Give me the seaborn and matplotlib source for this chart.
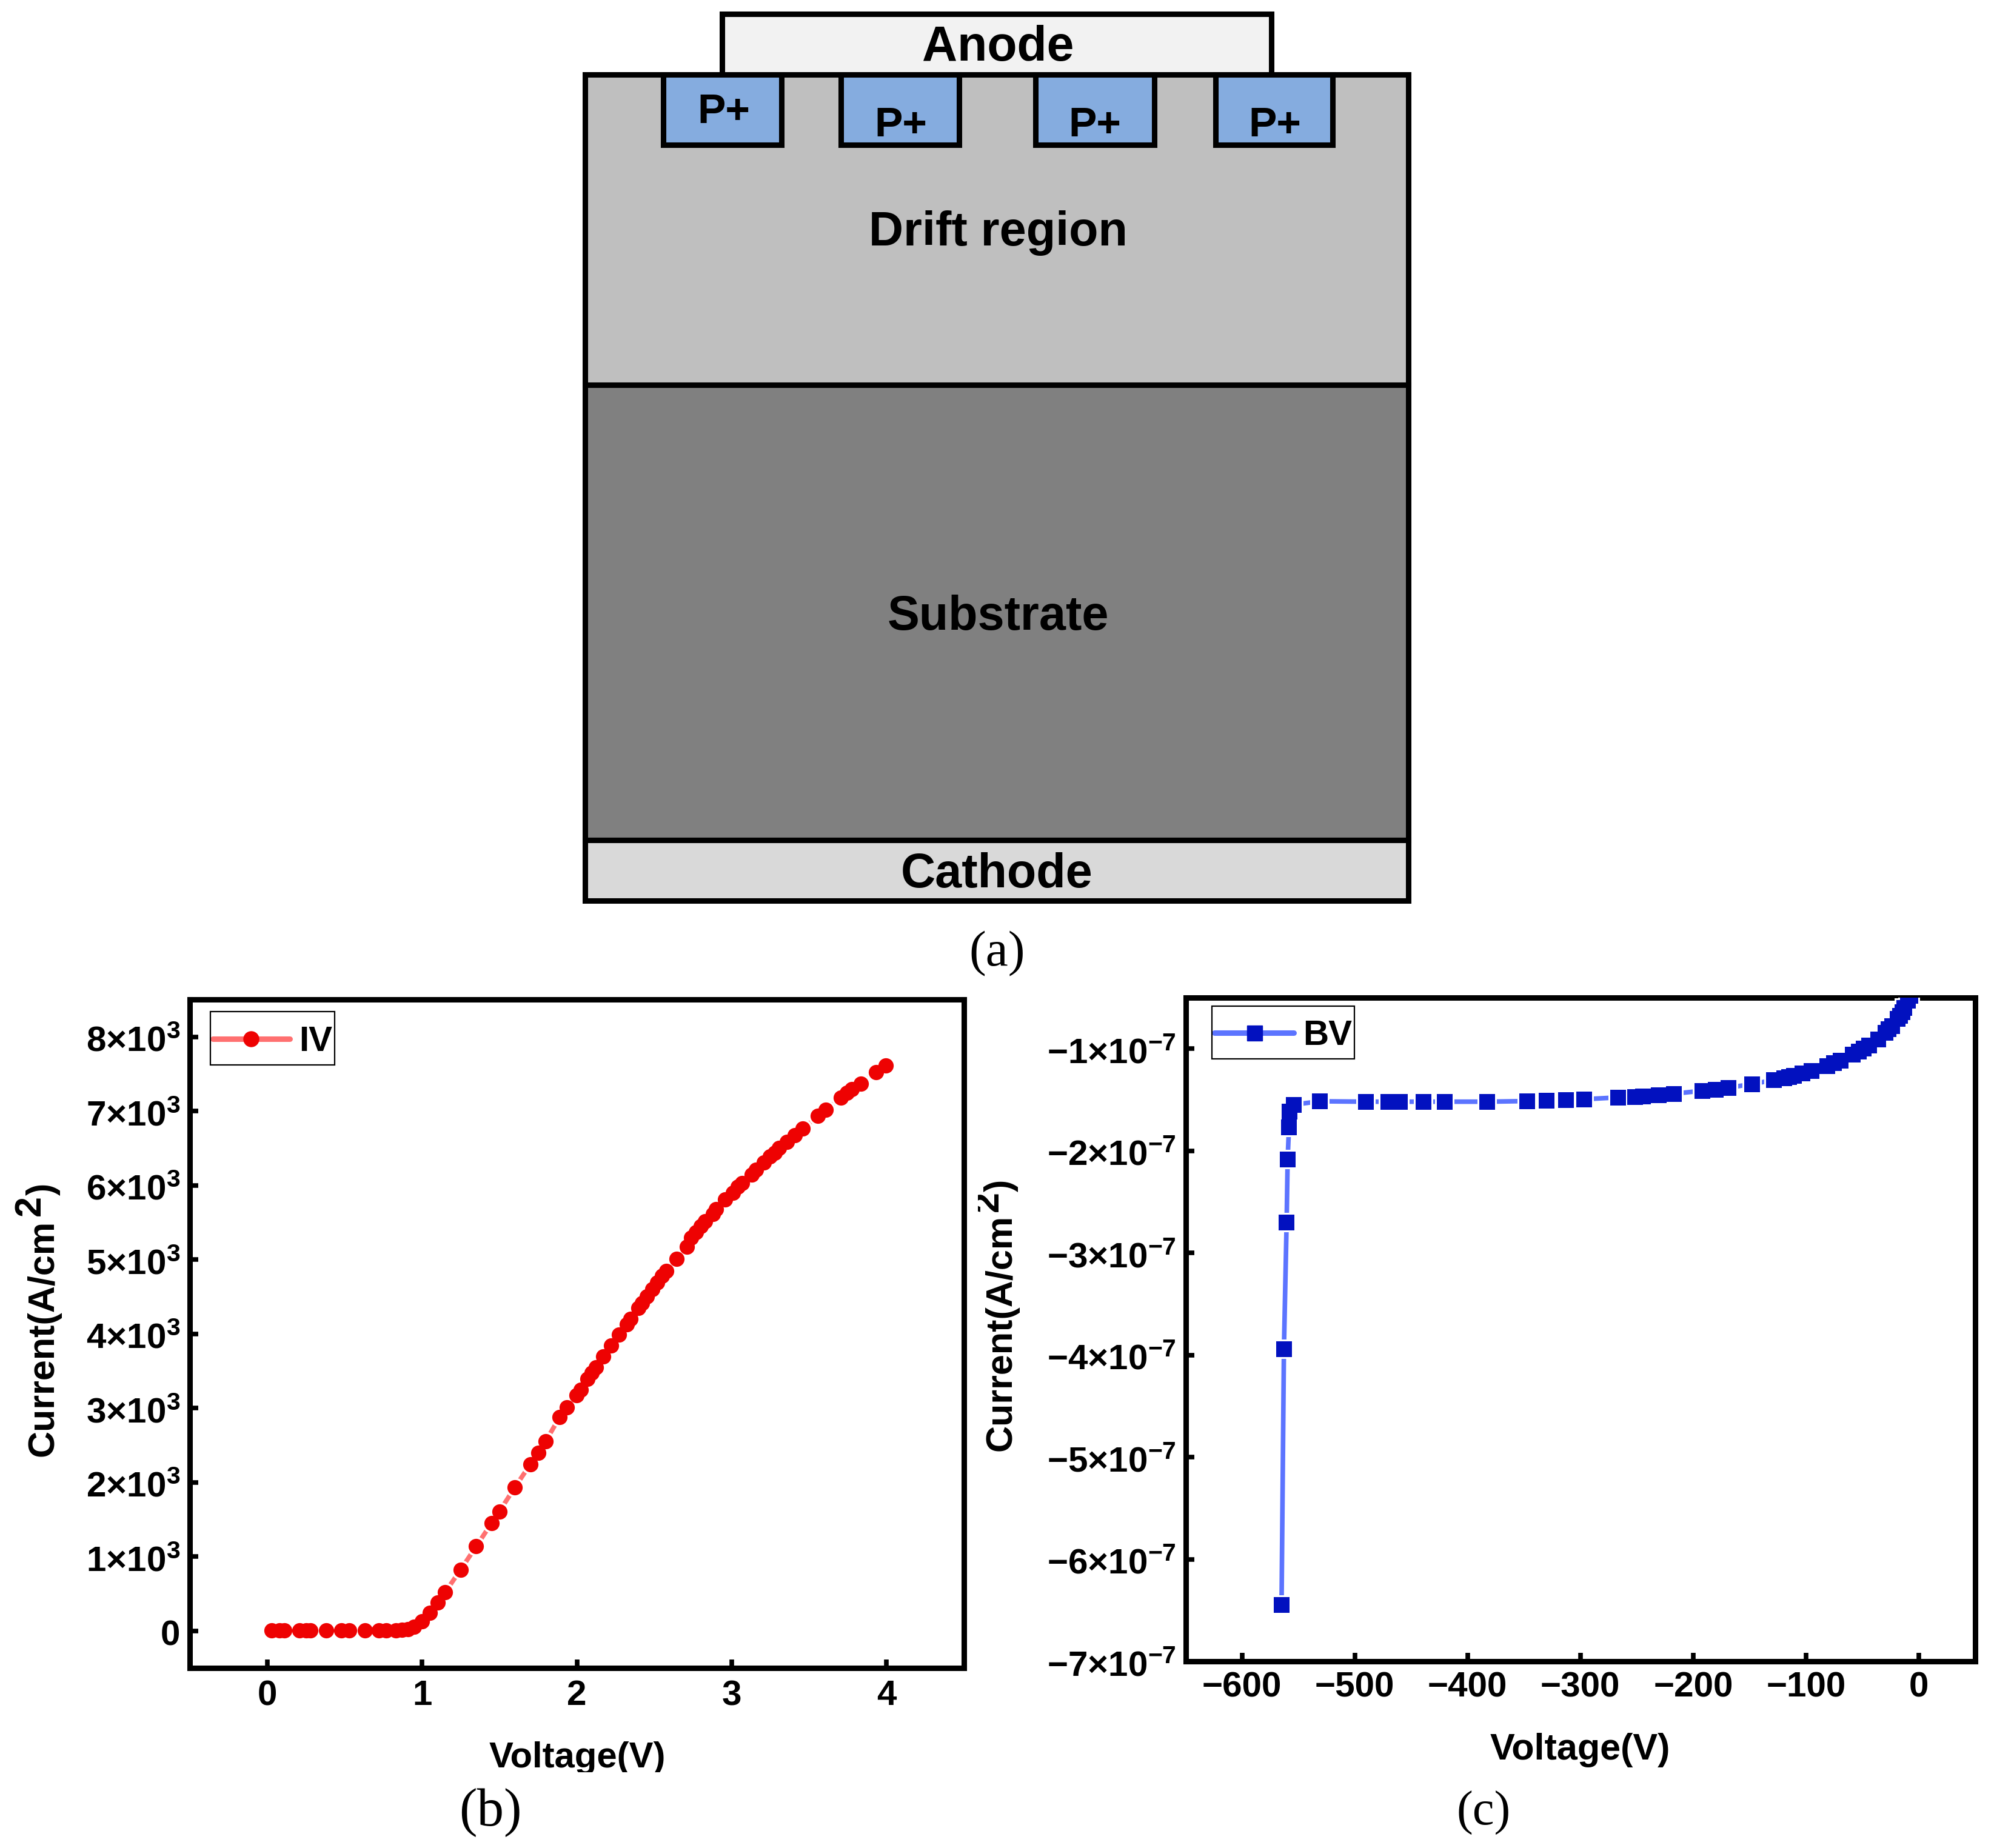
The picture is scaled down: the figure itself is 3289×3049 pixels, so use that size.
import matplotlib
matplotlib.use("Agg")
import matplotlib.pyplot as plt
import seaborn as sns
from matplotlib.font_manager import FontProperties
from matplotlib.lines import Line2D
from matplotlib.patches import Rectangle
from matplotlib.transforms import ScaledTranslation

W, H = 3289, 3049
SANS = "Liberation Sans"
SERIF = "Liberation Serif"

# ======================
# Data
# ======================
iv_voltage = [0.03, 0.08, 0.11, 0.21, 0.25, 0.28, 0.38, 0.48, 0.53, 0.63, 0.72, 0.77, 0.83, 0.87,
              0.91, 0.95, 1.00, 1.05, 1.10, 1.15, 1.25, 1.35, 1.45, 1.50, 1.60, 1.70, 1.75, 1.80,
              1.888, 1.934, 1.999, 2.025, 2.070, 2.096, 2.122, 2.172, 2.223, 2.273, 2.324, 2.348,
              2.398, 2.422, 2.454, 2.487, 2.520, 2.552, 2.578, 2.646, 2.711, 2.740, 2.770, 2.800,
              2.830, 2.879, 2.898, 2.957, 3.008, 3.040, 3.068, 3.129, 3.158, 3.207, 3.246, 3.277,
              3.307, 3.358, 3.407, 3.459, 3.557, 3.606, 3.706, 3.746, 3.776, 3.834, 3.934, 3.995]
iv_current = [3, 3, 3, 3, 3, 3, 3, 3, 3, 3, 5, 7, 10, 15,
              23, 58, 129, 246, 382, 522, 826, 1138, 1454, 1610, 1934, 2246, 2398, 2557,
              2877, 3012, 3170, 3245, 3393, 3475, 3548, 3692, 3839, 3986, 4127, 4201,
              4345, 4413, 4500, 4598, 4690, 4780, 4848, 5011, 5174, 5296, 5367, 5450,
              5514, 5612, 5677, 5810, 5900, 5979, 6030, 6142, 6207, 6305, 6387, 6438,
              6500, 6588, 6675, 6764, 6933, 7015, 7178, 7243, 7295, 7373, 7528, 7615]

bv_voltage = [-564.9, -562.8, -560.4, -559.5, -558.3, -558.0, -554.0, -530.9, -490.3, -470.0,
              -459.8, -439.2, -420.5, -382.7, -346.9, -330.2, -312.9, -296.8, -266.4, -251.5,
              -244.5, -230.5, -217.2, -192.0, -180.1, -168.9, -147.6, -128.5, -119.3, -115.1,
              -110.8, -103.0, -95.3, -81.4, -75.0, -69.2, -58.3, -53.1, -48.9, -44.0, -35.8,
              -29.4, -26.7, -23.7, -18.8, -16.7, -14.5, -12.7, -9.7, -7.6]
bv_current = [-6.445e-7, -3.945e-7, -2.70e-7, -2.083e-7, -1.768e-7, -1.618e-7, -1.548e-7, -1.515e-7,
              -1.519e-7, -1.519e-7, -1.519e-7, -1.519e-7, -1.519e-7, -1.519e-7, -1.513e-7,
              -1.507e-7, -1.501e-7, -1.495e-7, -1.477e-7, -1.471e-7, -1.465e-7, -1.453e-7,
              -1.441e-7, -1.412e-7, -1.400e-7, -1.382e-7, -1.346e-7, -1.307e-7, -1.289e-7,
              -1.277e-7, -1.265e-7, -1.242e-7, -1.218e-7, -1.170e-7, -1.141e-7, -1.117e-7,
              -1.057e-7, -1.028e-7, -0.998e-7, -0.968e-7, -0.909e-7, -0.844e-7, -0.808e-7,
              -0.778e-7, -0.707e-7, -0.677e-7, -0.640e-7, -0.600e-7, -0.527e-7, -0.485e-7]

iv_xticks = [0, 1, 2, 3, 4]
iv_yticks = [0, 1000, 2000, 3000, 4000, 5000, 6000, 7000, 8000]
iv_ylabels = ["0"] + [r"$\mathbf{%d{\times}10^{3}}$" % n for n in range(1, 9)]

bv_xticks = [-600, -500, -400, -300, -200, -100, 0]
bv_xlabels = ["\u2212600", "\u2212500", "\u2212400", "\u2212300", "\u2212200", "\u2212100", "0"]
bv_yticks = [-7e-7, -6e-7, -5e-7, -4e-7, -3e-7, -2e-7, -1e-7]
bv_ylabels = [r"$\mathbf{-%d{\times}10^{-7}}$" % n for n in range(7, 0, -1)]

# device cross section: left, top, right, bottom in picture pixels, fill
layers = [(965, 123.5, 2323, 635.5, "#BFBFBF"),
          (965, 635.5, 2323, 1386.5, "#808080"),
          (965, 1386.5, 2323, 1486.5, "#D9D9D9"),
          (1190.5, 23.5, 2096.5, 123.5, "#F2F2F2"),
          (1093.5, 123.5, 1288.5, 239.5, "#85ACDF"),
          (1386.5, 123.5, 1581.5, 239.5, "#85ACDF"),
          (1707.5, 123.5, 1903.5, 239.5, "#85ACDF"),
          (2004.5, 123.5, 2197.5, 239.5, "#85ACDF")]
layer_texts = [("Anode", 1646, 100, 58), ("Drift region", 1646, 405, 57),
               ("Substrate", 1646, 1039, 57), ("Cathode", 1644, 1464, 57),
               ("P+", 1194, 203, 50), ("P+", 1486, 225, 50), ("P+", 1806, 225, 50), ("P+", 2103, 225, 50)]
captions = [("(a)", 1645, 1574, 60), ("(b)", 809, 2991, 64), ("(c)", 2447, 2991, 58)]

sns.set_theme(style="ticks")
plt.rcParams["font.family"] = [SANS, "DejaVu Sans"]
plt.rcParams["font.weight"] = "bold"
plt.rcParams["mathtext.fontset"] = "custom"
plt.rcParams["mathtext.rm"] = SANS + ":bold"
plt.rcParams["mathtext.bf"] = SANS + ":bold"
plt.rcParams["mathtext.it"] = SANS + ":bold"
for key in ["axes.edgecolor", "xtick.color", "ytick.color", "text.color", "axes.labelcolor"]:
    plt.rcParams[key] = "black"

fig = plt.figure(figsize=(W / 100 + 0.0001, H / 100 + 0.0001), dpi=100, facecolor="white")


def px_axes(left, top, right, bottom):
    return fig.add_axes([left / W, 1 - bottom / H, (right - left) / W, (bottom - top) / H])


# overlay in picture pixels for the schematic and captions
ov = fig.add_axes([0, 0, 1, 1], zorder=5)
ov.set_xlim(0, W)
ov.set_ylim(H, 0)
ov.axis("off")

for left, top, right, bottom, fill in layers:
    ov.add_patch(Rectangle((left, top), right - left, bottom - top, facecolor=fill,
                           edgecolor="black", linewidth=6.5, joinstyle="miter"))
for label, x, y, size in layer_texts:
    ov.text(x, y, label, ha="center", va="baseline", fontsize=size, fontweight="bold")
for label, x, y, size in captions:
    ov.text(x, y, label, ha="center", va="center", fontsize=size, fontweight="normal", family=SERIF)


def draw_panel(ax, x, y, marker, line_color, mark_color):
    sns.lineplot(x=x, y=y, ax=ax, estimator=None, sort=False, color=line_color, linewidth=5.5,
                 solid_capstyle="round", zorder=3, legend=False)
    sns.scatterplot(x=x, y=y, ax=ax, marker=marker, color="white", s=540, linewidth=0, zorder=3.1, legend=False)
    sns.scatterplot(x=x, y=y, ax=ax, marker=marker, color=mark_color, s=330, linewidth=0, zorder=3.2, legend=False)


def style_panel(ax, xticks, xlabels, yticks, ylabels, xpad, ypad, shift):
    ax.set_xticks(xticks)
    ax.set_xticklabels(xlabels)
    ax.set_yticks(yticks)
    ax.set_yticklabels(ylabels)
    ax.tick_params(axis="x", direction="in", length=10, width=5.5, pad=xpad, labelsize=42)
    ax.tick_params(axis="y", direction="in", length=10, width=5.5, pad=ypad, labelsize=42)
    for lab in ax.get_yticklabels():
        lab.set_va("center_baseline")
        lab.set_transform(lab.get_transform() + ScaledTranslation(0, -shift / 100, fig.dpi_scale_trans))
    for spine in ax.spines.values():
        spine.set_linewidth(6.5)
        spine.set_visible(True)


def add_legend(ax, label, marker, line_color, mark_color, box, y, hlen):
    handle = Line2D([0], [0], color=line_color, linewidth=6.5, marker=marker, markersize=18,
                    markerfacecolor=mark_color, markeredgecolor=mark_color, solid_capstyle="round")
    ax.legend(handles=[handle], labels=[label], loc="center left", bbox_to_anchor=(box[0] + 4, y),
              bbox_transform=ov.transData, borderaxespad=0, borderpad=0, handlelength=hlen,
              handletextpad=0.26, frameon=False, prop=FontProperties(family=SANS, weight="bold", size=42))
    ov.add_patch(Rectangle((box[0], box[1]), box[2] - box[0], box[3] - box[1], facecolor="none",
                           edgecolor="black", linewidth=1.6, joinstyle="miter"))


def set_axis_labels(ax, xl, xsize, yl, two, paren):
    ax.set_xlabel("Voltage(V)", fontsize=xsize, fontweight="bold", va="baseline", ha="center")
    ax.xaxis.set_label_coords(xl[0], xl[1], transform=ov.transData)
    ax.set_ylabel("Current(A/cm", fontsize=44, fontweight="bold", va="baseline", ha="left", rotation_mode="anchor")
    ax.yaxis.set_label_coords(yl[0], yl[1], transform=ov.transData)
    # the big raised 2 and the closing bracket sit apart in the source
    ov.text(two[0], two[1], "2", rotation=90, rotation_mode="anchor", ha="center", va="baseline",
            fontsize=44, fontweight="bold", zorder=3)
    ov.text(paren[0], paren[1], ")", rotation=90, rotation_mode="anchor", ha="center", va="baseline",
            fontsize=44, fontweight="bold", zorder=3)


# ======================
# Panel b: forward IV
# ======================
ax_iv = px_axes(313, 1649.5, 1590, 2752)
draw_panel(ax_iv, iv_voltage, iv_current, "o", "#FF7070", "#EE0202")
ax_iv.set_xlim(-0.5, 4.5)
ax_iv.set_ylim(-500, 8500)
style_panel(ax_iv, iv_xticks, [str(v) for v in iv_xticks], iv_yticks, iv_ylabels, 14, 11.5, 3)
add_legend(ax_iv, "IV", "o", "#FF7070", "#EE0202", (347, 1669.5, 552, 1757), 1719, 2.17)
set_axis_labels(ax_iv, (952, 2916), 43, (87, 2403), (66, 1989), (87, 1962))
# the x label of panel b is cut off flat under the baseline in the source
ov.add_patch(Rectangle((780, 2924), 340, 24, facecolor="white", edgecolor="none", zorder=4))

# ======================
# Panel c: breakdown
# ======================
ax_bv = px_axes(1955.5, 1646, 3258, 2741)
draw_panel(ax_bv, bv_voltage, bv_current, "s", "#5C74FF", "#0211BF")
ax_bv.set_xlim(-650, 50)
ax_bv.set_ylim(-7e-7, -0.5e-7)
style_panel(ax_bv, bv_xticks, bv_xlabels, bv_yticks, bv_ylabels, 12, 11.5, 2)
add_legend(ax_bv, "BV", "s", "#5C74FF", "#0211BF", (1999, 1660, 2234, 1747), 1709, 2.25)
set_axis_labels(ax_bv, (2606, 2903), 44, (1667, 2394), (1646, 1982), (1667, 1956))
# the top of the raised 2 in panel c is cut off in the source
ov.add_patch(Rectangle((1598, 1960), 15, 45, facecolor="white", edgecolor="none", zorder=4))

fig.savefig("out.png", dpi=100, facecolor="white")
